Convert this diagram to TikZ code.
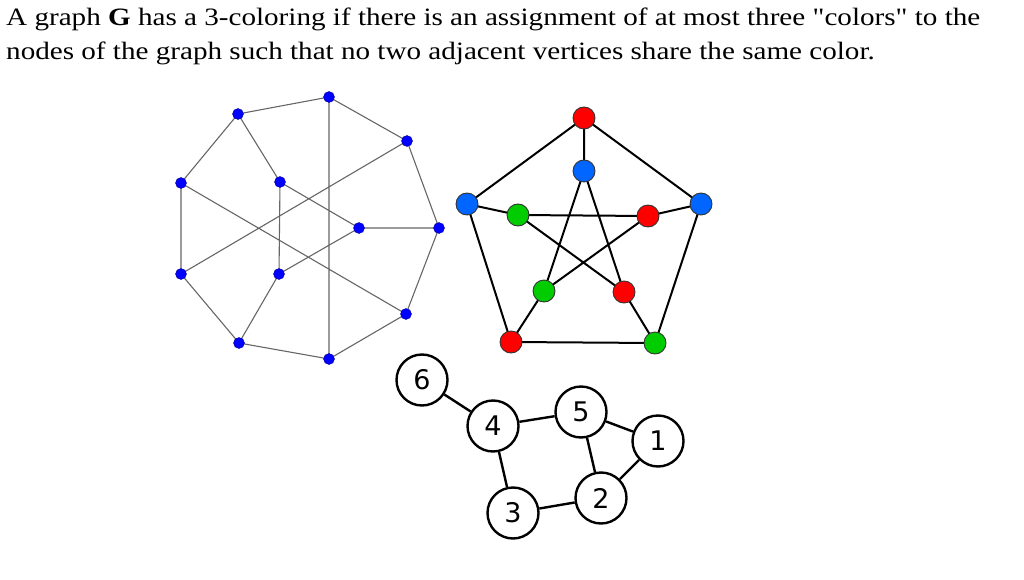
\documentclass[tikz,border=0pt]{standalone}
\usepackage{fontspec}
\setmainfont{Liberation Serif}
\newfontfamily\plainq{Liberation Serif}
\newfontfamily\numfont{DejaVu Sans}
\begin{document}
\begin{tikzpicture}[x=1pt,y=-1pt,
  bdot/.style={circle,fill=blue,draw=blue!60!black,inner sep=0pt,minimum size=11pt},
  pdot/.style={circle,draw=black!80,line width=0.9pt,inner sep=0pt,minimum size=22pt},
  gedge/.style={draw=black!60,line width=1.1pt},
  pedge/.style={draw=black,line width=2pt},
  num/.style={circle,draw=black,line width=2.4pt,fill=white,inner sep=0pt,minimum size=51pt,font=\fontsize{27}{27}\numfont}]
\useasboundingbox (0,0) rectangle (1024,580);
\node[anchor=north west,align=left,inner sep=0pt] (t) at (6,2)
 {\scalebox{1.165}[1]{\fontsize{25}{34}\selectfont\begin{tabular}{@{}l@{}}A graph \textbf{G} has a 3-coloring if there is an assignment of at most three {\plainq"}colors{\plainq"} to the\\
 nodes of the graph such that no two adjacent vertices share the same color.\end{tabular}}};
% left graph
\foreach \n/\x/\y in {o1/329/97,o2/238/114,o3/407/141,o4/181/183,o5/439/228,o6/181/274,o7/406/314,o8/239/343,o9/329/359,a/280/182,b/359/228,c/279/274}
  \coordinate (\n) at (\x,\y);
\draw[gedge] (o1)--(o3)--(o5)--(o7)--(o9)--(o8)--(o6)--(o4)--(o2)--(o1);
\draw[gedge] (o1)--(o9) (o2)--(a) (a)--(b) (b)--(c) (c)--(a) (b)--(o5) (c)--(o8) (o4)--(o7) (o6)--(o3);
\foreach \n in {o1,o2,o3,o4,o5,o6,o7,o8,o9,a,b,c} \node[bdot] at (\n) {};
% Petersen
\foreach \n/\x/\y in {p1/584/118,p2/701/204,p3/655/343,p4/511/342,p5/467/204,q1/584/171,q2/648/216,q3/624/292,q4/544/291,q5/518/215}
  \coordinate (\n) at (\x,\y);
\draw[pedge] (p1)--(p2)--(p3)--(p4)--(p5)--(p1);
\draw[pedge] (p1)--(q1) (p2)--(q2) (p3)--(q3) (p4)--(q4) (p5)--(q5);
\draw[pedge] (q1)--(q3)--(q5)--(q2)--(q4)--(q1);
\foreach \n/\c in {p1/red,p2/blue!60!cyan,p3/green!80!black,p4/red,p5/blue!60!cyan,q1/blue!60!cyan,q2/red,q3/red,q4/green!80!black,q5/green!80!black}
  \node[pdot,fill=\c] at (\n) {};
% numbered graph
\node[num] (n6) at (422,380) {6};
\node[num] (n4) at (493,426) {4};
\node[num] (n5) at (581,412) {5};
\node[num] (n1) at (658,441) {1};
\node[num] (n3) at (513,513) {3};
\node[num] (n2) at (601,498) {2};
\draw[line width=2.4pt] (n6)--(n4) (n4)--(n5) (n4)--(n3) (n3)--(n2) (n5)--(n2) (n5)--(n1) (n1)--(n2);
\end{tikzpicture}
\end{document}
